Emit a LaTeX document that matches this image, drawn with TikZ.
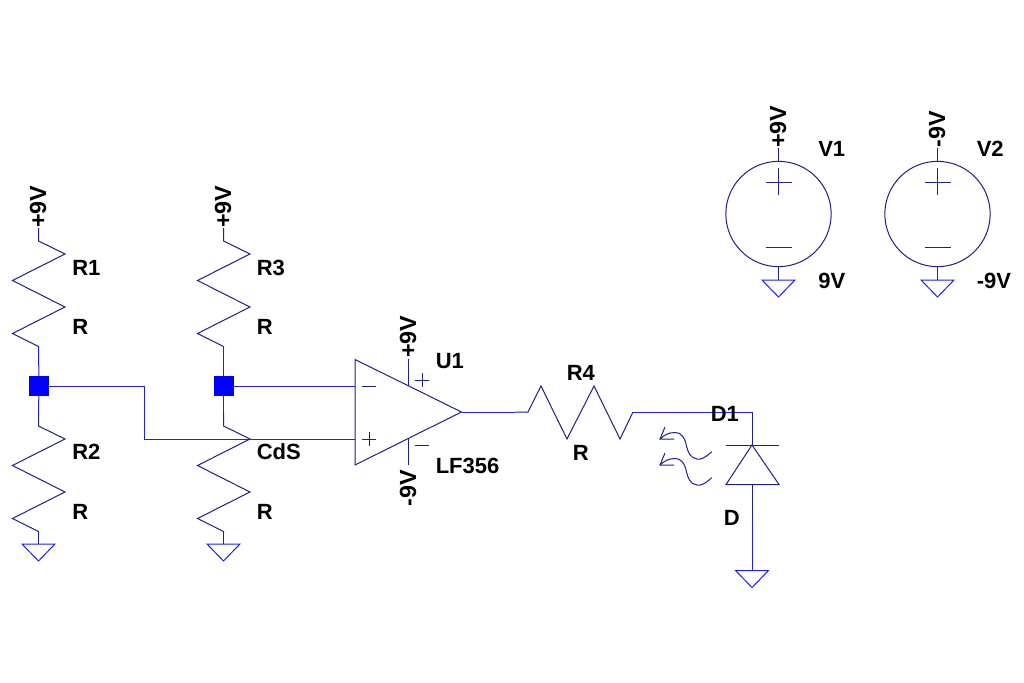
\documentclass[tikz,border=0pt]{standalone}
\usepackage{fontspec}
\setmainfont{Liberation Sans}
\definecolor{wirecol}{RGB}{30,30,250}
\definecolor{dotcol}{RGB}{0,0,255}
\definecolor{partcol}{RGB}{30,30,140}
\tikzset{
  wire/.style={draw=wirecol,line width=0.75pt},
  part/.style={draw=partcol,line width=0.75pt,line join=miter},
  gnd/.style={draw=wirecol,line width=0.75pt},
  dot/.style={fill=dotcol,draw=none,minimum size=15pt,inner sep=0pt,outer sep=0pt},
  lbl/.style={anchor=base west,inner sep=0pt,font=\fontsize{16.5pt}{18pt}\bfseries},
  uplbl/.style={rotate=90,anchor=base west,inner sep=0pt,font=\fontsize{17.5pt}{19pt}\bfseries},
  dnlbl/.style={rotate=90,anchor=base east,inner sep=0pt,font=\fontsize{17.5pt}{19pt}\bfseries}
}
\begin{document}
\begin{tikzpicture}[x=0.75pt,y=-0.75pt]
  \useasboundingbox (0,0) rectangle (1024,682);
  % resistors standing upright
  \foreach \name/\x/\y in {r1/38.5/228,r2/38.5/413,r3/223.5/228,cds/223.5/413} {
    \coordinate (\name-top) at (\x,\y);
    \coordinate (\name-bot) at (\x,\y+118);
    \draw[part] (\name-top) -- ++(0,13) -- ++(26.5,13) -- ++(-52.5,26.5) -- ++(52.5,26.5)
      -- ++(-52.5,26.5) -- ++(26,13) -- (\name-bot);
  }
  % lying resistor
  \coordinate (r4-in) at (515,412);
  \coordinate (r4-out) at (633,412);
  \draw[part] (r4-in) -- ++(13,0) -- ++(13,-26) -- ++(26,53) -- ++(27,-53) -- ++(26,53) -- (r4-out);

  % opamp
  \coordinate (u1-a) at (355,359.5);
  \coordinate (u1-b) at (355,465);
  \coordinate (u1-out) at (461.5,412);
  \coordinate (u1-neg) at (355,386);
  \coordinate (u1-pos) at (355,439);
  \draw[part] (u1-a) -- (u1-b) -- (u1-out) -- cycle;
  \coordinate (u1-vp) at (408.5,385.5);
  \coordinate (u1-vpend) at (408.5,359);
  \coordinate (u1-vm) at (408.5,438.5);
  \coordinate (u1-vmend) at (408.5,465);
  \draw[part] (u1-vp) -- (u1-vpend);
  \draw[part] (u1-vm) -- (u1-vmend);
  \draw[part] (362,386) -- (376,386);
  \draw[part] (362,439) -- (376,439) (369,432) -- (369,446);
  \draw[part] (415,380) -- (429,380) (422,373) -- (422,387);
  \draw[part] (415,445) -- (429,445);

  % photodiode
  \coordinate (d1-k) at (752,445);
  \coordinate (d1-a) at (752,484.5);
  \draw[part] (726,445) -- (779,445);
  \draw[part] (d1-k) -- (779,484.5) -- (726,484.5) -- cycle;
  \foreach \dy in {0,26} {
    \draw[part] (711.7,451.7+\dy) .. controls (705,458+\dy) and (700,460+\dy) .. (697,459+\dy)
      .. controls (690,458+\dy) and (688,452+\dy) .. (686.5,446+\dy)
      .. controls (685,438+\dy) and (681,432+\dy) .. (675,432.5+\dy)
      .. controls (669,432.5+\dy) and (664,435+\dy) .. (660,439+\dy);
    \draw[part] (665,427+\dy) -- (660,439+\dy) -- (674,439+\dy);
  }

  % sources
  \foreach \name/\x in {v1/778.5,v2/937.5} {
    \node[circle,part,minimum size=79pt,inner sep=0pt] (\name) at (\x,214) {};
    \coordinate (\name-top) at (\x,148);
    \coordinate (\name-bot) at (\x,280);
    \draw[part] (\name-top) -- (\name.north);
    \draw[part] (\name.south) -- (\name-bot);
    \draw[part] (\x-13,182) -- (\x+13,182) (\x,168) -- (\x,195);
    \draw[part] (\x-13,247) -- (\x+13,247);
  }

  % grounds
  \foreach \name/\x/\y in {g1/38.5/544,g2/223.5/544,g3/752/570.5,g4/778.5/280,g5/937.5/280} {
    \coordinate (\name) at (\x,\y);
    \draw[gnd] (\x-16.5,\y) -- (\x+16.5,\y) -- (\x,\y+17) -- cycle;
  }

  % wires
  \node[dot] (j1) at (39,386) {};
  \node[dot] (j2) at (223.5,386) {};
  \coordinate (bend1) at (144,386);
  \coordinate (bend2) at (144,439);
  \coordinate (bend3) at (752,412);
  \draw[wire] (r1-bot) -- (j1);
  \draw[wire] (r3-bot) -- (j2);
  \draw[wire] (j1) -- (r2-top);
  \draw[wire] (j2) -- (cds-top);
  \draw[wire] (j1) -- (bend1) -- (bend2) -- (u1-pos);
  \draw[wire] (j2) -- (u1-neg);
  \draw[wire] (u1-out) -- (r4-in);
  \draw[wire] (r4-out) -- (bend3);
  \draw[part] (bend3) -- (d1-k);
  \draw[part] (d1-a) -- (752,520);
  \draw[wire] (752,520) -- (g3);
  \draw[part] (r2-bot) -- (g1);
  \draw[part] (cds-bot) -- (g2);

  % labels
  \node[uplbl] (p1) at (46,228) {+9V};
  \node[uplbl] (p2) at (231,228) {+9V};
  \node[uplbl] (p3) at (416,358) {+9V};
  \node[dnlbl] (m3) at (416,470) {-9V};
  \node[uplbl] (p4) at (786,148) {+9V};
  \node[uplbl] (m4) at (945,148) {-9V};
  \foreach \name/\x/\y/\txt in {t1/72/275/R1,t2/72/334/R,t3/72/459/R2,t4/72/519/R,
    t5/256.5/275/R3,t6/256.5/334/R,t7/256.5/459/CdS,t8/256.5/519/R,t9/435.5/368/U1,t10/435.5/473/LF356,
    t11/566.5/380/R4,t12/572.5/460/R,t13/710.5/421/D1,t14/723.5/525/D,t15/818/156/V1,t16/818/288/9V,
    t17/976.5/156/V2,t18/976.5/288/-9V}
    \node[lbl] (\name) at (\x,\y) {\txt};
\end{tikzpicture}
\end{document}
